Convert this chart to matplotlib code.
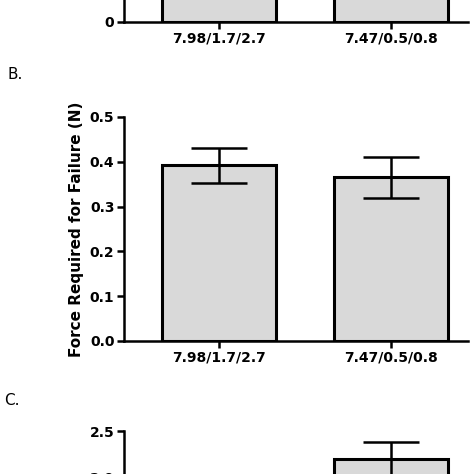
import matplotlib.pyplot as plt

groups = ["7.98/1.7/2.7", "7.47/0.5/0.8"]
cycles = [30, 30]
force_mean = [0.392, 0.365]
force_err = [0.039, 0.045]
c_mean = [1.5, 2.2]
c_err = [0.1, 0.18]

plt.rcParams['font.family'] = 'DejaVu Sans'
fig = plt.figure(figsize=(4.74, 4.74), dpi=100)


def style(ax, ymax, ticks, fmt):
    ax.set_xlim(-0.55, 1.45)
    ax.set_ylim(0, ymax)
    ax.set_yticks(ticks)
    ax.set_yticklabels([fmt % t for t in ticks], fontsize=10, fontweight='bold')
    ax.set_xticks([0, 1])
    ax.set_xticklabels(groups, fontsize=10, fontweight='bold')
    for s in ['top', 'right']:
        ax.spines[s].set_visible(False)
    for s in ['left', 'bottom']:
        ax.spines[s].set_linewidth(1.8)
    ax.tick_params(width=1.8, length=5, direction='out', pad=2)


def bars(ax, vals, errs):
    ax.bar([0, 1], vals, width=0.66, color='#d9d9d9', edgecolor='black', linewidth=2.2, zorder=2)
    if errs is not None:
        ax.errorbar([0, 1], vals, yerr=errs, fmt='none', ecolor='black', elinewidth=1.8,
                    capsize=20, capthick=1.8, zorder=3)


# top panel (cut off)
ax1 = fig.add_axes([0.262, 0.9536, 0.726, 0.5])
bars(ax1, cycles, None)
style(ax1, 40, [0], '%d')
ax1.set_ylabel("# of Cycles to Failure", fontsize=11, fontweight='bold')

# panel B
ax2 = fig.add_axes([0.262, 0.2806, 0.726, 0.4726])
bars(ax2, force_mean, force_err)
style(ax2, 0.5, [0, 0.1, 0.2, 0.3, 0.4, 0.5], '%.1f')
ax2.set_ylabel("Force Required for Failure (N)", fontsize=11, fontweight='bold')

# panel C (cut off)
ax3 = fig.add_axes([0.262, -0.3945, 0.726, 0.485])
bars(ax3, c_mean, c_err)
style(ax3, 2.5, [0, 0.5, 1.0, 1.5, 2.0, 2.5], '%.1f')

fig.text(0.015, 0.842, "B.", fontsize=11, va='center')
fig.text(0.008, 0.156, "C.", fontsize=11, va='center')

fig.savefig("out.png", dpi=100)
